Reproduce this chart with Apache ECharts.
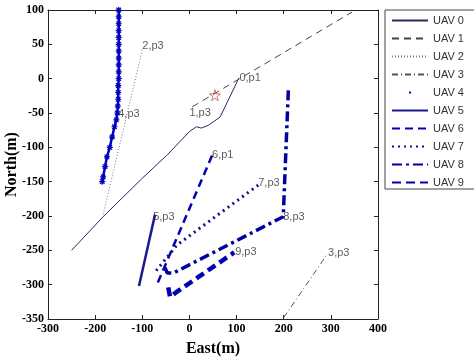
<!DOCTYPE html>
<html><head><meta charset="utf-8">
<script src="https://cdn.jsdelivr.net/npm/echarts@6/dist/echarts.min.js"></script>
<style>html,body{margin:0;padding:0;background:#fff}#c{width:474px;height:361px}</style>
</head><body><div id="c"></div>
<script>
// ---- data (East, North in metres) ----
const xTicks = [-300, 400, 100];   // min, max, interval
const yTicks = [-350, 100, 50];
const uavNames = ['UAV 0','UAV 1','UAV 2','UAV 3','UAV 4','UAV 5','UAV 6','UAV 7','UAV 8','UAV 9'];
const uav0 = [[-250,-250],[-183,-201],[-100,-145],[-47,-111],[0,-77],[15,-70],[25,-72],[40,-68],[65,-56],[105,1]];
const uav1 = [[6,-41],[345,97]];
const uav2 = [[-100,42],[-183,-198]];
const uav3 = [[200,-348],[292,-256]];
const uav4 = [[-150,100],[-150,90],[-150,80],[-150,70],[-150,60],[-150,50],[-150,40],[-150,30],[-150,20],[-150,10],[-150,0],[-151,-10],[-151,-20],[-151,-30],[-152,-40],[-153,-50],[-155,-60],[-159,-70],[-164,-85],[-169,-100],[-175,-114],[-179,-128],[-183,-143],[-185,-150]];
const uav5 = [[-73,-198],[-107,-302]];
const uav6 = [[48,-112],[-69,-300]];
const uav7 = [[146,-155],[-26,-242],[-71,-280]];
const uav8 = [[-52,-275],[-47,-283],[-34,-283],[199,-201],[210,-14]];
const uav9 = [[-45,-304],[-41,-318],[-30,-312],[95,-253]];
const target = [[54,-24]];
const endLabels = [[106,1,'0,p1'],[0,-50,'1,p3'],[-100,48,'2,p3'],[294,-254,'3,p3'],[-151,-51,'4,p3'],[-77,-201,'5,p3'],[48,-111,'6,p1'],[146,-152,'7,p3'],[199,-201,'8,p3'],[97,-252,'9,p3']];

const tickFont = {fontFamily:'Liberation Serif', fontWeight:'bold', fontSize:12, color:'#000'};
const axisCommon = {
  type:'value', splitLine:{show:false},
  axisLine:{show:true, onZero:false, lineStyle:{color:'#222', width:1}},
  axisTick:{show:true, inside:true, length:4, lineStyle:{color:'#222'}}
};
function line(name, data, color, width, type, extra) {
  return Object.assign({
    name, type:'line', data, symbol:'none', animation:false, clip:true,
    lineStyle:{color, width, type}, itemStyle:{color}
  }, extra||{});
}
const chart = echarts.init(document.getElementById('c'));
chart.setOption({
  animation:false,
  grid:{left:48, right:96, top:10, bottom:42, containLabel:false, outerBoundsMode:'none'},
  xAxis:[
    Object.assign({}, axisCommon, {min:xTicks[0], max:xTicks[1], interval:xTicks[2], position:'bottom',
      name:'East(m)', nameLocation:'middle', nameGap:22,
      nameTextStyle:{fontFamily:'Liberation Serif', fontWeight:'bold', fontSize:16, color:'#000'},
      axisLabel:Object.assign({margin:4}, tickFont)}),
    Object.assign({}, axisCommon, {min:xTicks[0], max:xTicks[1], interval:xTicks[2], position:'top', axisLabel:{show:false}})
  ],
  yAxis:[
    Object.assign({}, axisCommon, {min:yTicks[0], max:yTicks[1], interval:yTicks[2], position:'left',
      name:'North(m)', nameLocation:'middle', nameGap:36, nameRotate:90, nameMoveOverlap:false,
      nameTextStyle:{fontFamily:'Liberation Serif', fontWeight:'bold', fontSize:16, color:'#000', verticalAlign:'middle'},
      axisLabel:Object.assign({margin:4}, tickFont)}),
    Object.assign({}, axisCommon, {min:yTicks[0], max:yTicks[1], interval:yTicks[2], position:'right', axisLabel:{show:false}})
  ],
  legend:{
    orient:'vertical', left:385, top:10, padding:[5,12,1,6],
    itemWidth:36, itemHeight:10, itemGap:7,
    borderColor:'#444', borderWidth:1, backgroundColor:'#fff',
    itemStyle:{opacity:0},
    textStyle:{fontFamily:'Liberation Sans', fontSize:11, color:'#333'},
    data: uavNames.map((n,i)=> i===4 ? {name:n, icon:'path://M0,0L0.01,0M36,10L36.01,10M17,4L19,4L19,6L17,6Z', itemStyle:{opacity:1, color:'#0000c0', borderWidth:0}} : {name:n})
  },
  series:[
    line(uavNames[0], uav0, '#2a2a5a', 1, 'solid'),
    line(uavNames[1], uav1, '#444444', 1, [7,5]),
    line(uavNames[2], uav2, '#777777', 1, [1,2]),
    line(uavNames[3], uav3, '#555555', 1, [6,3,1,3]),
    line(uavNames[4], uav4, '#0000c0', 2.5, 'solid', {
      symbol:'path://M4,0L4,8M0,4L8,4M1,1L7,7M7,1L1,7', symbolSize:6, showSymbol:true,
      itemStyle:{color:'#0000c0', borderColor:'#0000c0', borderWidth:1.2}}),
    line(uavNames[5], uav5, '#1a1a8c', 2.5, 'solid'),
    line(uavNames[6], uav6, '#0000b4', 2.5, [8,5]),
    line(uavNames[7], uav7, '#10108a', 3, [2,4]),
    line(uavNames[8], uav8, '#0000a0', 3.5, [10,4,3,4]),
    line(uavNames[9], uav9, '#0000b0', 4.5, [9,5]),
    {type:'scatter', data:target, symbol:'path://M50,0L61,35L98,35L68,57L79,91L50,70L21,91L32,57L2,35L39,35Z',
     symbolSize:11, animation:false, itemStyle:{color:'rgba(0,0,0,0)', borderColor:'#c05050', borderWidth:1}},
    {type:'scatter', data:endLabels, symbolSize:0, animation:false, silent:true,
     label:{show:true, position:'right', distance:0, formatter:p=>p.value[2],
       fontFamily:'Liberation Sans', fontSize:11, color:'#333'}}
  ]
});
</script></body></html>
